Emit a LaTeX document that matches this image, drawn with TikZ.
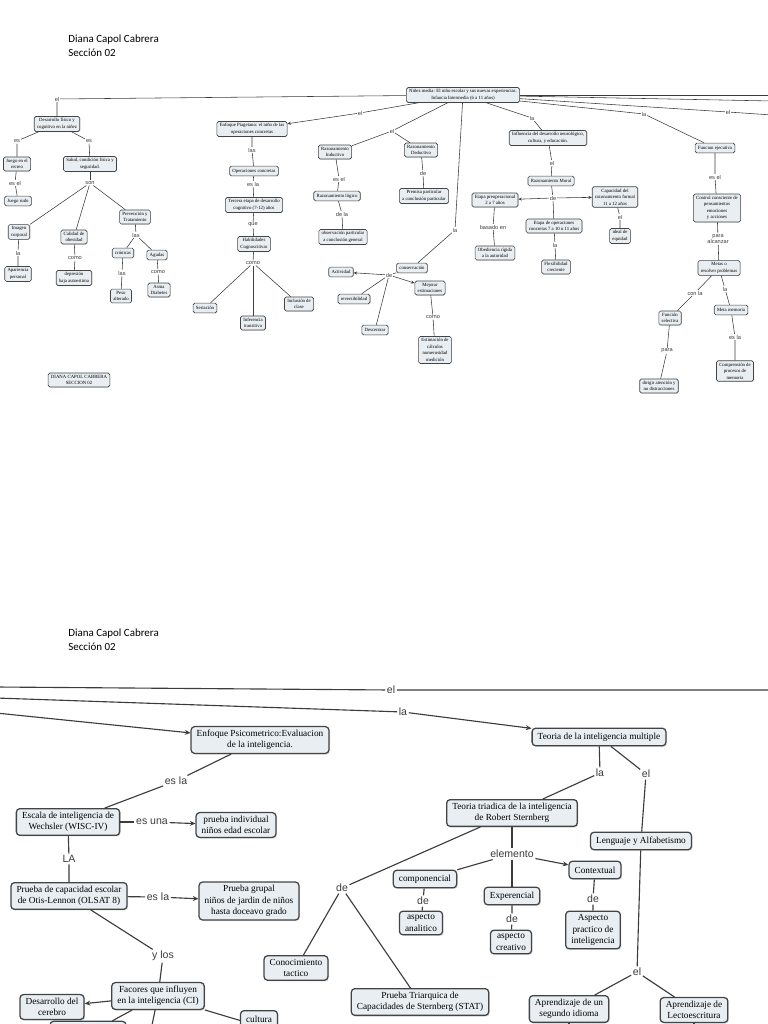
\documentclass[tikz,border=0pt]{standalone}
\usepackage{fontspec}
\setmainfont{Liberation Serif}
\setsansfont{Liberation Sans}
\newfontfamily\headfont{Carlito}
\usepackage{xcolor}
\usepackage{tikz}
\usetikzlibrary{arrows.meta, shadows}
\definecolor{boxfill}{RGB}{232, 238, 242}
\definecolor{boxline}{RGB}{66, 68, 70}
\definecolor{linkgray}{RGB}{60, 60, 60}
\newcommand{\smalltxt}{\fontsize{3.4}{4.6}\selectfont}
\newcommand{\smalllbl}{\sffamily\fontsize{4}{4.8}\selectfont}
\newcommand{\bigtxt}{\fontsize{6.6}{8}\selectfont}
\newcommand{\biglbl}{\sffamily\fontsize{7.5}{8.5}\selectfont}

\begin{document}
\begin{tikzpicture}[x=0.025cm, y=-0.025cm,
  concept/.style  = {rectangle, rounded corners=2.5pt, draw=boxline, line width=0.9pt,
                     fill=boxfill, align=center, font=\bigtxt,
                     inner xsep=4pt, inner ysep=2.5pt, minimum height=12.5pt,
                     drop shadow={shadow xshift=0.8pt, shadow yshift=-0.8pt, opacity=0.25}},
  tconcept/.style = {rectangle, rounded corners=1.2pt, draw=boxline, line width=0.45pt,
                     fill=boxfill, align=center, font=\smalltxt,
                     inner xsep=2pt, inner ysep=1.5pt, minimum height=7pt,
                     drop shadow={shadow xshift=0.4pt, shadow yshift=-0.4pt, opacity=0.25}},
  link/.style     = {fill=white, inner sep=1pt, font=\biglbl, text=linkgray, align=center},
  tlink/.style    = {fill=white, inner sep=0.5pt, font=\smalllbl, text=linkgray, align=center},
  bline/.style    = {draw=linkgray, line width=0.8pt},
  tline/.style    = {draw=linkgray, line width=0.4pt},
  arr/.style      = {-{Stealth[length=4pt, width=3.5pt]}},
  tarr/.style     = {-{Stealth[length=2.5pt, width=2.2pt]}},
  head/.style     = {anchor=north west, align=left, inner sep=0pt,
                     font=\headfont\fontsize{7.8}{10}\selectfont},
]
  \useasboundingbox (0,0) rectangle (768,1024);
  \clip (0,0) rectangle (768,1024);

  % Headers
  \node[head] (headA) at (68,35)  {Diana Capol Cabrera\\Sección 02};
  \node[head] (headB) at (68,629) {Diana Capol Cabrera\\Sección 02};

  % ---------------- Top map: concepts
  \node[tconcept] (ninez)      at (463,95)  {Niñez media: El niño escolar y sus nuevas experiencias.\\Infancia Intermedia (6 a 11 años)};
  \node[tconcept] (desarrollo) at (57,124)  {Desarrollo físico y\\cognitivo en la niñez};
  \node[tconcept] (juego)      at (17,164)  {Juego en el\\recreo};
  \node[tconcept] (rudo)       at (18,201)  {Juego rudo};
  \node[tconcept] (salud)      at (90,164)  {Salud, condición física y\\seguridad.};
  \node[tconcept] (imagen)     at (19,232)  {Imagen\\corporal};
  \node[tconcept] (apariencia) at (18,274)  {Apariencia\\personal};
  \node[tconcept] (obesidad)   at (74,237)  {Calidad de\\obesidad};
  \node[tconcept] (depresion)  at (74,278)  {depresión\\baja autoestima};
  \node[tconcept] (prevencion) at (135,217) {Prevención y\\Tratamiento};
  \node[tconcept] (cronicas)   at (123,253) {crónicas};
  \node[tconcept] (agudas)     at (157,255) {Agudas};
  \node[tconcept] (peso)       at (121,296) {Peso\\alterado};
  \node[tconcept] (asma)       at (159,290) {Asma\\Diabetes};
  \node[tconcept] (firma)      at (79,380)  {DIANA CAPOL CABRERA\\SECCION 02};

  \node[tconcept] (piaget)     at (252,129) {Enfoque Piagetano: el niño de las\\operaciones concretas};
  \node[tconcept] (opcon)      at (254,171) {Operaciones concretas};
  \node[tconcept] (tercera)    at (254,205) {Tercera etapa de desarrollo\\cognitivo (7-12) años};
  \node[tconcept] (habil)      at (254,244) {Habilidades\\Cognoscitivas};
  \node[tconcept] (seriacion)  at (205,308) {Seriación};
  \node[tconcept] (inferencia) at (253,323) {Inferencia\\transitiva};
  \node[tconcept] (inclusion)  at (299,304) {Inclusión de\\clase};

  \node[tconcept] (inductivo)  at (335,152) {Razonamiento\\Inductivo};
  \node[tconcept] (deductivo)  at (421,150) {Razonamiento\\Deductivo};
  \node[tconcept] (logico)     at (337,196) {Razonamiento lógico};
  \node[tconcept] (observ)     at (343,237) {observación particular\\a conclusión general};
  \node[tconcept] (premisa)    at (424,196) {Premisa particular\\a conclusión particular};

  \node[tconcept] (conserv)    at (412,268) {conservación};
  \node[tconcept] (actividad)  at (341,272) {Actividad};
  \node[tconcept] (revers)     at (354,299) {reversibilidad};
  \node[tconcept] (descentrar) at (375,330) {Descentrar};
  \node[tconcept] (mejorar)    at (430,288) {Mejorar\\estimaciones};
  \node[tconcept] (estimacion) at (435,350) {Estimación de\\cálculos\\numerosidad\\medición};

  \node[tconcept] (influencia) at (548,138) {Influencia del desarrollo neurológico,\\cultura, y educación.};
  \node[tconcept] (moral)      at (551,181) {Razonamiento Moral};
  \node[tconcept] (preop)      at (495,200) {Etapa preoperacional\\2 a 7 años};
  \node[tconcept] (capacidad)  at (615,197) {Capacidad del\\razonamiento formal\\11 a 12 años};
  \node[tconcept] (etapaop)    at (554,226) {Etapa de operaciones\\concretas 7 a 10 u 11 años};
  \node[tconcept] (obediencia) at (495,253) {Obediencia rígida\\a la autoridad};
  \node[tconcept] (flexib)     at (556,267) {Flexibilidad\\creciente};
  \node[tconcept] (ideal)      at (620,236) {ideal de\\equidad};

  \node[tconcept] (funcion)    at (715,148) {Funcion ejecutiva};
  \node[tconcept] (control)    at (717,208) {Control consciente de\\pensamientos\\emociones\\y acciones};
  \node[tconcept] (metas)      at (719,268) {Metas o\\resolver problemas};
  \node[tconcept] (selectiva)  at (670,318) {Función\\selectiva};
  \node[tconcept] (metamem)    at (731,310) {Meta memoria};
  \node[tconcept] (dirigir)    at (659,386) {dirigir atención y\\no distracciones};
  \node[tconcept] (comprension) at (735,371) {Comprensión de\\procesos de\\memoria};

  % Top map: linking words
  \node[tlink] (elA)     at (57,99)   {el};
  \node[tlink] (esA)     at (17,141)  {es};
  \node[tlink] (esB)     at (89,141)  {es};
  \node[tlink] (esel)    at (15,183)  {es el};
  \node[tlink] (son)     at (90,183)  {son};
  \node[tlink] (laA)     at (18,253)  {la};
  \node[tlink] (comoA)   at (75,258)  {como};
  \node[tlink] (lasA)    at (136,235) {las};
  \node[tlink] (lasB)    at (122,273) {las};
  \node[tlink] (comoB)   at (158,272) {como};
  \node[tlink] (elB)     at (360,113) {el};
  \node[tlink] (lasC)    at (252,150) {las};
  \node[tlink] (eslaA)   at (253,184) {es la};
  \node[tlink] (que)     at (253,225) {que};
  \node[tlink] (comoC)   at (253,263) {como};
  \node[tlink] (elC)     at (392,131) {el};
  \node[tlink] (eselB)   at (339,179) {es el};
  \node[tlink] (dela)    at (342,214) {de la};
  \node[tlink] (deA)     at (423,173) {de};
  \node[tlink] (laB)     at (455,230) {la};
  \node[tlink] (deB)     at (389,275) {de};
  \node[tlink] (comoD)   at (433,317) {como};
  \node[tlink] (laC)     at (532,118) {la};
  \node[tlink] (elD)     at (552,163) {el};
  \node[tlink] (deC)     at (553,198) {de};
  \node[tlink] (basado)  at (493,227) {basado en};
  \node[tlink] (laD)     at (555,245) {la};
  \node[tlink] (elE)     at (620,217) {el};
  \node[tlink] (laE)     at (644,114) {la};
  \node[tlink] (elF)     at (728,112) {el};
  \node[tlink] (eselC)   at (715,177) {es el};
  \node[tlink] (alcanzar) at (718,239) {para\\alcanzar};
  \node[tlink] (conla)   at (695,293) {con la};
  \node[tlink] (laF)     at (725,289) {la};
  \node[tlink] (para)    at (667,351) {para};
  \node[tlink] (eslaB)   at (735,337) {es la};
  \coordinate (offA) at (772,95);
  \coordinate (offB) at (772,101);
  \coordinate (offC) at (772,115);

  % Top map: connectors
  \draw[tline] (ninez) -- (elA) -- (desarrollo);
  \draw[tline] (desarrollo) -- (esA) -- (juego);
  \draw[tline] (desarrollo) -- (esB) -- (salud);
  \draw[tline] (juego) -- (esel) -- (rudo);
  \draw[tline] (salud) -- (son);
  \draw[tline] (son) -- (imagen);
  \draw[tline] (son) -- (obesidad);
  \draw[tline] (son) -- (prevencion);
  \draw[tline] (imagen) -- (laA) -- (apariencia);
  \draw[tline] (obesidad) -- (comoA) -- (depresion);
  \draw[tline] (prevencion) -- (lasA);
  \draw[tline] (lasA) -- (cronicas);
  \draw[tline] (lasA) -- (agudas);
  \draw[tline] (cronicas) -- (lasB) -- (peso);
  \draw[tline] (agudas) -- (comoB) -- (asma);

  \draw[tline] (ninez) -- (elB);
  \draw[tline, tarr] (elB) -- (piaget);
  \draw[tline] (piaget) -- (lasC) -- (opcon) -- (eslaA) -- (tercera) -- (que) -- (habil) -- (comoC);
  \draw[tline] (comoC) -- (seriacion);
  \draw[tline] (comoC) -- (inferencia);
  \draw[tline] (comoC) -- (inclusion);

  \draw[tline] (ninez) -- (elC);
  \draw[tline] (elC) -- (inductivo);
  \draw[tline] (elC) -- (deductivo);
  \draw[tline] (inductivo) -- (eselB) -- (logico) -- (dela) -- (observ);
  \draw[tline] (deductivo) -- (deA) -- (premisa);

  \draw[tline] (ninez) -- (laB) -- (conserv) -- (deB);
  \draw[tline, tarr] (deB) -- (actividad);
  \draw[tline, tarr] (deB) -- (mejorar);
  \draw[tline] (deB) -- (revers);
  \draw[tline] (deB) -- (descentrar);
  \draw[tline] (mejorar) -- (comoD) -- (estimacion);

  \draw[tline] (ninez) -- (laC) -- (influencia) -- (elD) -- (moral) -- (deC);
  \draw[tline, tarr] (deC) -- (preop);
  \draw[tline, tarr] (deC) -- (capacidad);
  \draw[tline] (deC) -- (etapaop);
  \draw[tline] (preop) -- (basado) -- (obediencia);
  \draw[tline] (etapaop) -- (laD) -- (flexib);
  \draw[tline] (capacidad) -- (elE) -- (ideal);

  \draw[tline] (ninez) -- (laE) -- (funcion) -- (eselC) -- (control) -- (alcanzar) -- (metas);
  \draw[tline] (metas) -- (conla) -- (selectiva) -- (para) -- (dirigir);
  \draw[tline] (metas) -- (laF) -- (metamem) -- (eslaB) -- (comprension);
  \draw[tline] (ninez) -- (elF) -- (offC);
  \draw[tline] (ninez) -- (offA);
  \draw[tline] (ninez) -- (offB);

  % ---------------- Bottom map: concepts
  \node[concept] (psico)     at (260,740) {Enfoque Psicometrico:Evaluacion\\de la inteligencia.};
  \node[concept] (wechsler)  at (68,822)  {Escala de inteligencia de\\Wechsler (WISC-IV)};
  \node[concept] (indiv)     at (236,825) {prueba individual\\niños edad escolar};
  \node[concept] (otis)      at (69,896)  {Prueba de capacidad escolar\\de Otis-Lennon (OLSAT 8)};
  \node[concept] (grupal)    at (249,901) {Prueba grupal\\niños de jardin de niños\\hasta doceavo grado};
  \node[concept] (factores)  at (158,996) {Facores que influyen\\en la inteligencia (CI)};
  \node[concept] (cerebro)   at (52,1007) {Desarrollo del\\cerebro};
  \node[concept, minimum width=54pt, minimum height=18pt] (hidden) at (88,1034) {};
  \node[concept, anchor=north, inner ysep=1.2pt, minimum height=22pt, text depth=10pt] (cultura) at (259,1010) {cultura};

  \node[concept] (multiple)  at (599,737) {Teoria de la inteligencia multiple};
  \node[concept] (sternberg) at (512,813) {Teoria triadica de la inteligencia\\de Robert Sternberg};
  \node[concept] (lenguaje)  at (641,841) {Lenguaje y Alfabetismo};
  \node[concept] (compo)     at (425,879) {componencial};
  \node[concept] (experen)   at (512,896) {Experencial};
  \node[concept] (context)   at (595,870) {Contextual};
  \node[concept] (analitico) at (421,923) {aspecto\\analitico};
  \node[concept] (creativo)  at (511,942) {aspecto\\creativo};
  \node[concept] (practico)  at (593,930) {Aspecto\\practico de\\inteligencia};
  \node[concept] (tactico)   at (296,968) {Conocimiento\\tactico};
  \node[concept] (stat)      at (420,1002) {Prueba Triarquica de\\Capacidades de Sternberg (STAT)};
  \node[concept] (segundo)   at (569,1009) {Aprendizaje de un\\segundo idioma};
  \node[concept] (lecto)     at (694,1010) {Aprendizaje de\\Lectoescritura};

  % Bottom map: linking words
  \node[link] (elG)      at (391,690) {el};
  \node[link] (laG)      at (403,712) {la};
  \node[link] (eslaC)    at (176,781) {es la};
  \node[link] (esuna)    at (152,822) {es una};
  \node[link] (LA)       at (69,859)  {LA};
  \node[link] (eslaD)    at (158,897) {es la};
  \node[link] (ylos)     at (163,956) {y los};
  \node[link] (laH)      at (600,773) {la};
  \node[link] (elH)      at (646,774) {el};
  \node[link] (deD)      at (342,888) {de};
  \node[link] (elemento) at (512,854) {elemento};
  \node[link] (deE)      at (423,901) {de};
  \node[link] (deF)      at (512,919) {de};
  \node[link] (deG)      at (593,899) {de};
  \node[link] (elI)      at (637,972) {el};
  \coordinate (inA)  at (-4,687);
  \coordinate (outA) at (772,690);
  \coordinate (inB)  at (-4,698);
  \coordinate (inC)  at (-4,713);
  \coordinate (offD) at (151,1030);
  \coordinate (offE) at (569,1030);
  \coordinate (offF) at (694,1030);

  % Bottom map: connectors
  \draw[bline] (inA) -- (elG) -- (outA);
  \draw[bline] (inB) -- (laG);
  \draw[bline, arr] (laG) -- (multiple);
  \draw[bline, arr] (inC) -- (psico);
  \draw[bline] (psico) -- (eslaC) -- (wechsler);
  \draw[bline] (wechsler) -- (esuna);
  \draw[bline, arr] (esuna) -- (indiv);
  \draw[bline] (wechsler) -- (LA) -- (otis);
  \draw[bline] (otis) -- (eslaD);
  \draw[bline, arr] (eslaD) -- (grupal);
  \draw[bline] (otis) -- (ylos) -- (factores);
  \draw[bline, arr] (factores) -- (cerebro);
  \draw[bline] (factores) -- (hidden);
  \draw[bline] (factores) -- (offD);
  \draw[bline] (factores) -- (cultura);

  \draw[bline] (multiple) -- (laH) -- (sternberg);
  \draw[bline] (multiple) -- (elH) -- (lenguaje);
  \draw[bline] (sternberg) -- (deD);
  \draw[bline] (deD) -- (tactico);
  \draw[bline] (deD) -- (stat);
  \draw[bline] (sternberg) -- (elemento);
  \draw[bline] (elemento) -- (compo);
  \draw[bline] (elemento) -- (experen);
  \draw[bline, arr] (elemento) -- (context);
  \draw[bline] (compo) -- (deE) -- (analitico);
  \draw[bline] (experen) -- (deF) -- (creativo);
  \draw[bline] (context) -- (deG) -- (practico);
  \draw[bline] (lenguaje) -- (elI);
  \draw[bline] (elI) -- (segundo);
  \draw[bline] (elI) -- (lecto);
  \draw[bline] (segundo) -- (offE);
  \draw[bline] (lecto) -- (offF);
\end{tikzpicture}
\end{document}
